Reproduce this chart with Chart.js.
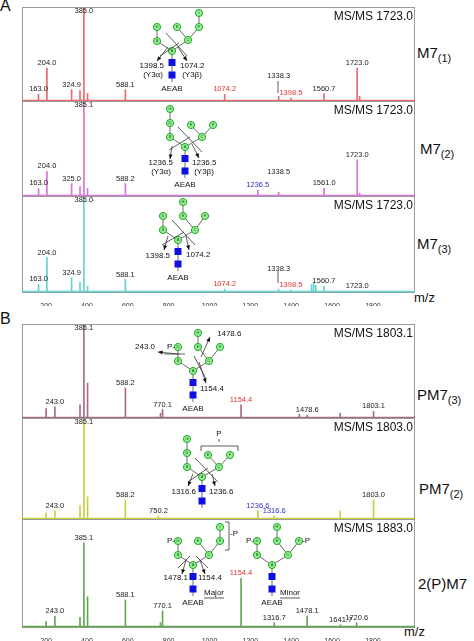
<!DOCTYPE html>
<html><head><meta charset="utf-8">
<script src="https://cdn.jsdelivr.net/npm/chart.js@4"></script>
<style>
body{margin:0;background:#fff;font-family:"Liberation Sans",Arial,sans-serif}
#wrap{position:relative;width:474px;height:641px}
canvas{position:absolute}
.t{position:absolute;font-family:"Liberation Sans",Arial,sans-serif;color:#111;white-space:nowrap}
</style></head><body>
<div id="wrap">
<div class="t" style="left:0;top:-3px;font-size:16px">A</div>
<div class="t" style="left:0;top:310px;font-size:16px">B</div>
<div class="t" style="left:414px;top:290px;font-size:13px">m/z</div>
<div class="t" style="left:404px;top:624px;font-size:13px">m/z</div>
<div class="t" style="left:417px;top:44px;font-size:15px">M7<sub style="font-size:11px">(1)</sub></div>
<div class="t" style="left:420px;top:140px;font-size:15px">M7<sub style="font-size:11px">(2)</sub></div>
<div class="t" style="left:417px;top:235px;font-size:15px">M7<sub style="font-size:11px">(3)</sub></div>
<div class="t" style="left:417px;top:386px;font-size:15px">PM7<sub style="font-size:11px">(3)</sub></div>
<div class="t" style="left:419px;top:480px;font-size:15px">PM7<sub style="font-size:11px">(2)</sub></div>
<div class="t" style="left:418px;top:575px;font-size:15px">2(P)M7</div>
</div>
<script>
const xTicks=[200,400,600,800,1000,1200,1400,1600,1800];
const a1Mz=[163,204,324.9,366,385,403,588.1,1074.2,1338.3,1398.5,1560.7,1723,1735];
const a1Int=[7,35,12,11,100,8,12,7,5,3,8,35,5];
const a1Lab=[[163,'163.0','#222'],[204,'204.0','#222'],[324.9,'324.9','#222'],[385,'385.0','#222'],[588.1,'588.1','#222'],[1074.2,'1074.2','#e03030'],[1338.3,'1338.3','#222'],[1398.5,'1398.5','#e03030'],[1560.7,'1560.7','#222'],[1723,'1723.0','#222']];
const a2Mz=[163,204,325,366,385.1,403,588.2,1236.5,1338.5,1561,1723,1735];
const a2Int=[8,26,13,10,100,8,13,6,4,8,38,3];
const a2Lab=[[163,'163.0','#222'],[204,'204.0','#222'],[325,'325.0','#222'],[385.1,'385.1','#222'],[588.2,'588.2','#222'],[1236.5,'1236.5','#3030c0'],[1338.5,'1338.5','#222'],[1561,'1561.0','#222'],[1723,'1723.0','#222']];
const a3Mz=[163,204,324.9,366,385,403,588.1,1074.2,1338.3,1398.5,1500,1510,1520,1560.7,1723];
const a3Int=[8,36,15,10,100,6,13,3,3,2,8,10,7,6,1];
const a3Lab=[[163,'163.0','#222'],[204,'204.0','#222'],[324.9,'324.9','#222'],[385,'385.0','#222'],[588.1,'588.1','#222'],[1074.2,'1074.2','#e03030'],[1338.3,'1338.3','#222'],[1398.5,'1398.5','#e03030'],[1560.7,'1560.7','#222'],[1723,'1723.0','#222']];
const b1Mz=[200,243,366,385.1,403,588.2,760,770.1,1154.4,1440,1478.6,1640,1803.1];
const b1Int=[10,12,14,100,37,32,5,9,14,4,3,5,7];
const b1Lab=[[243,'243.0','#222'],[385.1,'385.1','#222'],[588.2,'588.2','#222'],[770.1,'770.1','#222'],[1154.4,'1154.4','#e03030'],[1478.6,'1478.6','#222'],[1803.1,'1803.1','#222']];
const b2Mz=[200,243,366,385.1,403,588.2,750.2,1236.6,1316.6,1640,1803];
const b2Int=[6,8,13,100,22,19,3,8,3,8,19];
const b2Lab=[[243,'243.0','#222'],[385.1,'385.1','#222'],[588.2,'588.2','#222'],[750.2,'750.2','#222'],[1236.6,'1236.6','#3030c0'],[1316.6,'1316.6','#3030c0'],[1803,'1803.0','#222']];
const b3Mz=[200,243,366,385.1,403,588.1,760,770.1,1154.4,1316.7,1478.1,1641.7,1720.6];
const b3Int=[5,10,9,78,28,25,4,15,45,4,10,2,4];
const b3Lab=[[243,'243.0','#222'],[385.1,'385.1','#222'],[588.1,'588.1','#222'],[770.1,'770.1','#222'],[1154.4,'1154.4','#e03030'],[1316.7,'1316.7','#222'],[1478.1,'1478.1','#222'],[1641.7,'1641.7','#222'],[1720.6,'1720.6','#222']];

// glycan structures: [letter, dx, dy, parentIndex, prefix, suffix]
const G_M7a=[['A',0,0,-1],['B',-15,-10,0],['D',-15,-24,1],['C',16,-11,0],['E',5,-24,3],['F',27,-24,3],['I',27,-38,5]];
const G_M7b=[['A',0,0,-1],['B',-15,-10,0],['D',-15,-24,1],['G',-15,-38,2],['C',17,-10,0],['E',6,-22,4],['F',28,-22,4]];
const G_M7c=[['A',0,0,-1],['B',-15,-10,0],['D',-15,-24,1],['C',17,-10,0],['E',5,-24,3],['F',27,-24,3],['H',5,-38,4]];
const G_P1=[['A',0,0,-1],['B',-15,-10,0],['D',-15,-24,1,'P-'],['C',16,-10,0],['E',5,-24,3],['F',27,-24,3],['H',5,-38,4]];
const G_P3=[['A',0,0,-1],['B',-15,-10,0],['D',-15,-24,1,'P-'],['C',16,-10,0],['E',5,-24,3],['F',27,-24,3],['I',27,-38,5]];
const G_P4=[['A',0,0,-1],['B',-15,-10,0],['D',-15,-24,1,'P-'],['C',16,-10,0],['E',5,-24,3],['F',27,-24,3,'','-P'],['H',5,-38,4]];

function glycan(ctx,ax,ay,nodes,aeab){
  ctx.save();ctx.strokeStyle='#444';ctx.lineWidth=0.8;
  nodes.forEach(n=>{if(n[3]>=0){const p=nodes[n[3]];ctx.beginPath();ctx.moveTo(ax+p[1],ay+p[2]);ctx.lineTo(ax+n[1],ay+n[2]);ctx.stroke();}});
  ctx.beginPath();ctx.moveTo(ax,ay);ctx.lineTo(ax,ay+31);ctx.stroke();
  ctx.fillStyle='#1010e0';ctx.fillRect(ax-3.5,ay+8,7,7);ctx.fillRect(ax-3.5,ay+20.5,7,7);
  nodes.forEach(n=>{const x=ax+n[1],y=ay+n[2];
    ctx.beginPath();ctx.arc(x,y,3.6,0,7);ctx.fillStyle='#9be89b';ctx.fill();ctx.strokeStyle='#20b020';ctx.lineWidth=1;ctx.stroke();
    ctx.fillStyle='#106010';ctx.font='4px Liberation Sans';ctx.textAlign='center';ctx.textBaseline='middle';ctx.fillText(n[0],x,y+0.3);
    ctx.fillStyle='#111';ctx.font='8px Liberation Sans';
    if(n[4]){ctx.textAlign='right';ctx.fillText(n[4],x-3,y);}
    if(n[5]){ctx.textAlign='left';ctx.fillText(n[5],x+3,y);}
  });
  if(aeab){ctx.fillStyle='#111';ctx.font='8px Liberation Sans';ctx.textAlign='center';ctx.textBaseline='middle';ctx.fillText('AEAB',ax,ay+38);}
  ctx.restore();
}
function arrowLine(ctx,x1,y1,x2,y2){
  ctx.save();ctx.strokeStyle='#333';ctx.fillStyle='#111';ctx.lineWidth=0.8;
  ctx.beginPath();ctx.moveTo(x1,y1);ctx.lineTo(x2,y2);ctx.stroke();
  const a=Math.atan2(y2-y1,x2-x1);ctx.beginPath();ctx.moveTo(x2,y2);
  ctx.lineTo(x2-5*Math.cos(a-0.4),y2-5*Math.sin(a-0.4));ctx.lineTo(x2-5*Math.cos(a+0.4),y2-5*Math.sin(a+0.4));ctx.fill();ctx.restore();
}
function line(ctx,x1,y1,x2,y2){ctx.save();ctx.strokeStyle='#333';ctx.lineWidth=0.8;ctx.beginPath();ctx.moveTo(x1,y1);ctx.lineTo(x2,y2);ctx.stroke();ctx.restore();}
function txt(ctx,s,x,y,al,sz,col){ctx.save();ctx.fillStyle=col||'#111';ctx.font=(sz||8)+'px Liberation Sans';ctx.textAlign=al||'center';ctx.textBaseline='middle';ctx.fillText(s,x,y);ctx.restore();}

const deco={
 a1:(c,t)=>{const ax=172,ay=51-t;glycan(c,ax,ay,G_M7a,true);line(c,166,33-t,187,56-t);line(c,160,56-t,179,43-t);
   arrowLine(c,168,47-t,157,61-t);arrowLine(c,178,47-t,187,61-t);
   txt(c,'1398.5',164,66-t,'right');txt(c,'1074.2',180,66-t,'left');txt(c,'(Y3α)',153,75-t);txt(c,'(Y3β)',192,75-t);
   line(c,278,81-t,278,93-t);},
 a2:(c,t)=>{const ax=185,ay=147-t;glycan(c,ax,ay,G_M7b,true);line(c,178,127-t,202,152-t);line(c,169,150-t,190,137-t);
   arrowLine(c,172,146-t,170,159-t);arrowLine(c,192,144-t,199,158-t);
   txt(c,'1236.5',173,163-t,'right');txt(c,'1236.5',192,163-t,'left');txt(c,'(Y3α)',161,172-t);txt(c,'(Y3β)',204,172-t);},
 a3:(c,t)=>{const ax=178,ay=240-t;glycan(c,ax,ay,G_M7c,true);line(c,172,220-t,195,245-t);line(c,162,245-t,184,232-t);
   arrowLine(c,168,236-t,164,250-t);arrowLine(c,186,236-t,189,250-t);
   txt(c,'1398.5',170,256-t,'right');txt(c,'1074.2',186,255-t,'left');line(c,278,271-t,278,283-t);},
 b1:(c,t)=>{const ax=193,ay=371-t;glycan(c,ax,ay,G_P1,true);line(c,164,354-t,185,354-t);arrowLine(c,178,354-t,158,352-t);txt(c,'243.0',155,347-t,'right');
   line(c,194,356-t,206,379-t);arrowLine(c,199,362-t,206,383-t);txt(c,'1154.4',200,389-t,'left');
   arrowLine(c,201,357-t,210,337-t);txt(c,'1478.6',217,334-t,'left');},
 b2:(c,t)=>{const ax=202,ay=477-t;glycan(c,ax,ay,G_M7b,false);
   c.save();c.strokeStyle='#333';c.lineWidth=0.8;c.beginPath();c.moveTo(201,451-t);c.lineTo(201,446-t);c.lineTo(238,446-t);c.lineTo(238,451-t);c.stroke();c.restore();
   txt(c,'P',219,434-t);line(c,219,439-t,219,442-t);
   line(c,195,458-t,218,482-t);line(c,188,482-t,208,468-t);arrowLine(c,193,474-t,188,486-t);arrowLine(c,212,474-t,215,486-t);
   txt(c,'1316.6',196,492-t,'right');txt(c,'1236.6',209,492-t,'left');},
 b3:(c,t)=>{const ax=193,ay=565-t;glycan(c,ax,ay,G_P3,true);
   c.save();c.strokeStyle='#333';c.lineWidth=0.8;c.beginPath();c.moveTo(225,522-t);c.lineTo(229,522-t);c.lineTo(229,550-t);c.lineTo(225,550-t);c.stroke();c.restore();
   txt(c,'-P',230,534-t,'left');
   line(c,190,556-t,178,568-t);line(c,196,556-t,208,568-t);arrowLine(c,186,560-t,182,574-t);arrowLine(c,200,560-t,205,574-t);
   txt(c,'1478.1',188,578-t,'right');txt(c,'1154.4',198,578-t,'left');
   txt(c,'Major',214,593-t,'center');line(c,204,598-t,224,598-t);
   glycan(c,272,565-t,G_P4,true);txt(c,'Minor',290,593-t,'center');line(c,280,598-t,300,598-t);}
};

const panels=[
 {id:'a1',top:7,h:94,mz:a1Mz,it:a1Int,lab:a1Lab,col:'#e86a6a',title:'MS/MS 1723.0'},
 {id:'a2',top:101,h:95,mz:a2Mz,it:a2Int,lab:a2Lab,col:'#d873d8',title:'MS/MS 1723.0'},
 {id:'a3',top:196,h:96,mz:a3Mz,it:a3Int,lab:a3Lab,col:'#63d3d3',title:'MS/MS 1723.0',axis:true},
 {id:'b1',top:324,h:94,mz:b1Mz,it:b1Int,lab:b1Lab,col:'#a86888',title:'MS/MS 1803.1'},
 {id:'b2',top:418,h:101,mz:b2Mz,it:b2Int,lab:b2Lab,col:'#c8d040',title:'MS/MS 1803.0'},
 {id:'b3',top:519,h:108,mz:b3Mz,it:b3Int,lab:b3Lab,col:'#62a852',title:'MS/MS 1883.0',axis:true}
];
const wrap=document.getElementById('wrap');
panels.forEach(p=>{
  const H=p.h+(p.axis?14:0)+10;
  const box=document.createElement('div');box.style.cssText=`position:absolute;left:22px;top:${p.top-10}px;width:393px;height:${H}px`;
  const cv=document.createElement('canvas');box.appendChild(cv);wrap.appendChild(box);
  const plug={id:'dec'+p.id,
   afterDraw(ch){const c=ch.ctx,xs=ch.scales.x,ys=ch.scales.y,a=ch.chartArea;
     c.save();c.strokeStyle='#999';c.lineWidth=1;c.strokeRect(a.left+0.5,a.top+0.5,a.right-a.left-1,a.bottom-a.top);c.restore();
     c.save();c.strokeStyle=p.col;c.lineWidth=1.5;c.beginPath();c.moveTo(a.left,a.bottom-0.5);c.lineTo(a.right,a.bottom-0.5);c.stroke();c.restore();
     p.lab.forEach(l=>{const i=p.mz.indexOf(l[0]);const y=ys.getPixelForValue(p.it[i]);
       let yy=Math.max(y-5,a.top+4);if(l[1]=='1338.3'||l[1]=='1338.5')yy=y-20;
       txt(c,l[1],xs.getPixelForValue(l[0]),yy,'center',7.5,l[2]);});
     txt(c,p.title,a.right-2,a.top+10,'right',12,'#111');
     c.save();c.translate(-22,0);deco[p.id](c,p.top-10);c.restore();
   }};
  const xs={type:'linear',min:82,max:2006,offset:false,display:!!p.axis,grid:{display:false},border:{display:false},
       afterBuildTicks:s=>{s.ticks=xTicks.map(v=>({value:v}));},
       ticks:{font:{size:7,family:'Liberation Sans'},color:'#333',maxRotation:0,padding:2,callback:v=>String(v)}};
  if(p.axis) xs.afterFit=s=>{s.height=14;};
  new Chart(cv,{type:'bar',plugins:[plug],
   data:{datasets:[{data:p.mz.map((m,i)=>({x:m,y:p.it[i]})),backgroundColor:p.col,barThickness:1}]},
   options:{responsive:true,maintainAspectRatio:false,animation:false,events:[],
    layout:{padding:{top:10,left:0,right:0,bottom:0}},
    plugins:{legend:{display:false},tooltip:{enabled:false}},
    scales:{x:xs,y:{min:0,max:100,display:false}}}});
});
</script></body></html>
